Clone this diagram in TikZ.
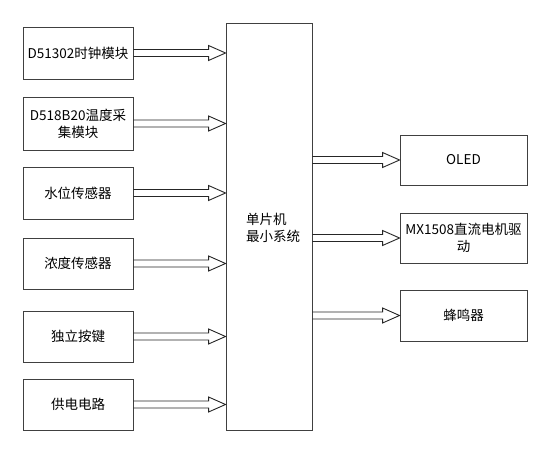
\documentclass[tikz,border=0pt]{standalone}
\usepackage{fontspec}
\setmainfont{Noto Sans CJK SC}
\usetikzlibrary{calc}
\tikzset{
  box/.style={draw=black!75, line width=0.9pt, fill=white, inner sep=2pt,
    align=center, font=\fontsize{13.5}{17}\selectfont},
  lbox/.style={box, minimum width=110pt},
  rbox/.style={box, minimum width=127pt, minimum height=50pt},
  conn/.style={draw=black!85, line width=0.9pt, line join=miter},
  lbl/.style={align=left, inner sep=0pt, font=\fontsize{13.5}{17}\selectfont}
}
\newcommand\harrow[2]{%
  \draw[conn] ([yshift=3.5pt]#1) -- ([xshift=-17pt,yshift=3.5pt]#2)
    -- ([xshift=-17pt,yshift=7.5pt]#2) -- (#2)
    -- ([xshift=-17pt,yshift=-7.5pt]#2) -- ([xshift=-17pt,yshift=-3.5pt]#2)
    -- ([yshift=-3.5pt]#1);}
\begin{document}
\begin{tikzpicture}[x=1pt,y=-1pt]
\useasboundingbox[fill=white] (0,0) rectangle (547,454);
% central box
\node[box, minimum width=86pt, minimum height=407pt] (m) at (269,226.5) {};
\node[lbl, anchor=west] (mt) at (246,228) {单片机\\最小系统};
% left boxes
\node[lbox, minimum height=52pt] (a1) at (78,53) {D51302时钟模块};
\node[lbox, minimum height=53pt] (a2) at (78,123.5) {D518B20温度采\\集模块};
\node[lbox, minimum height=52pt] (a3) at (78,193) {水位传感器};
\node[lbox, minimum height=51pt] (a4) at (78,263.5) {浓度传感器};
\node[lbox, minimum height=51pt] (a5) at (78,336.5) {独立按键};
\node[lbox, minimum height=51pt] (a6) at (78,404.5) {供电电路};
% right boxes
\node[rbox] (b1) at (463.5,160) {OLED};
\node[rbox] (b2) at (463.5,238) {MX1508直流电机驱\\动};
\node[rbox, minimum height=51pt] (b3) at (463.5,315.5) {蜂鸣器};
% arrow targets
\foreach \i in {1,...,6}{
  \coordinate (t\i) at (a\i.east -| m.west);
  \harrow{a\i.east}{t\i}
}
\foreach \i in {1,2,3}{
  \coordinate (s\i) at (b\i.west -| m.east);
  \harrow{s\i}{b\i.west}
}
\end{tikzpicture}
\end{document}
